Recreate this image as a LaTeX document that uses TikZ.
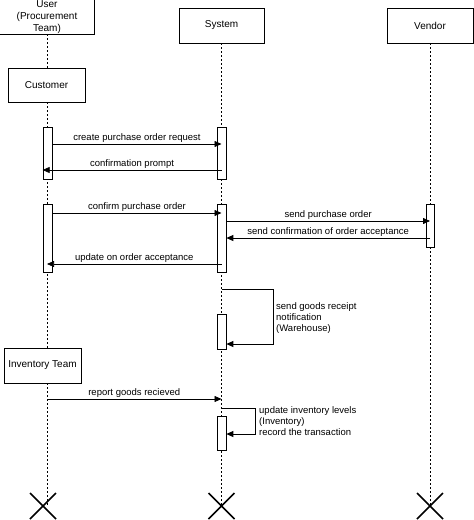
\documentclass[tikz,border=0pt]{standalone}
\usepackage{fontspec}
\setmainfont{Liberation Sans}
\usetikzlibrary{arrows.meta}
\begin{document}
\begin{tikzpicture}[x=1pt,y=-1pt,
  box/.style={draw, line width=0.8pt, fill=white, inner sep=0pt, font=\fontsize{10}{12}\selectfont, align=center},
  hdr/.style={inner sep=0pt, font=\fontsize{10}{12}\selectfont, align=center},
  act/.style={draw, line width=0.7pt, fill=white, minimum width=9pt, inner sep=0pt},
  life/.style={line width=0.7pt, dash pattern=on 2pt off 2pt},
  msg/.style={line width=0.75pt, -{Triangle[length=7pt,width=6pt]}},
  lbl/.style={font=\fontsize{9.5}{11.4}\selectfont, inner sep=0pt},
  endx/.style={line width=1.6pt}]
\useasboundingbox (0,0) rectangle (474,520);
% lifeline x positions
\coordinate (Lu) at (47,0);
\coordinate (Ls) at (221.5,0);
\coordinate (Lv) at (430,0);
% end markers
\coordinate (xu) at (43,506);
\coordinate (xs) at (221.5,506);
\coordinate (xv) at (430,506);
% headers
\node[box, minimum width=95pt, minimum height=40pt] (user) at (46.5,14) {};
\node[hdr] (usertxt) at (47,17.5) {User\\(Procurement\\Team)};
\node[box, minimum width=85pt, minimum height=35pt] (sys) at (221.5,25.5) {System};
\node[box, minimum width=86pt, minimum height=35pt] (ven) at (430,25.5) {Vendor};
\node[box, minimum width=77pt, minimum height=34pt] (cust) at (46.5,85) {Customer};
\node[box, minimum width=77pt, minimum height=35pt] (inv) at (42.5,365.5) {Inventory Team};
% lifelines
\draw[life] (user.south -| Lu) -- (cust.north -| Lu);
\draw[life] (cust.south -| Lu) -- (inv.north -| Lu);
\draw[life] (inv.south -| Lu) -- (xu -| Lu);
\draw[life] (sys.south) -- (xs);
\draw[life] (ven.south) -- (xv);
% activations
\node[act, minimum height=52pt] (ua1) at (47.5,153) {};
\node[act, minimum height=52pt] (sa1) at (221.5,153) {};
\node[act, minimum height=68pt] (ua2) at (47.5,238) {};
\node[act, minimum height=68pt] (sa2) at (221.5,238) {};
\node[act, minimum width=8pt, minimum height=43pt] (va1) at (430,225.5) {};
\node[act, minimum height=35pt] (sa3) at (221.5,331.5) {};
\node[act, minimum height=34pt] (sa4) at (221.5,433) {};
% messages
\draw[msg] (ua1.east |- 0,144) -- node[lbl, midway, anchor=base, yshift=3.5pt] {create purchase order request} (Ls |- 0,144);
\draw[msg] (Ls |- 0,170) -- node[lbl, midway, anchor=base, yshift=3.5pt] {confirmation prompt} (ua1.west |- 0,170);
\draw[msg] (ua2.east |- 0,213) -- node[lbl, midway, anchor=base, yshift=3.5pt] {confirm purchase order} (Ls |- 0,213);
\draw[msg] (sa2.east |- 0,221) -- node[lbl, midway, anchor=base, yshift=3.5pt] {send purchase order} (Lv |- 0,221);
\draw[msg] (Lv |- 0,238) -- node[lbl, midway, anchor=base, yshift=3.5pt] {send confirmation of order acceptance} (sa2.east |- 0,238);
\draw[msg] (Ls |- 0,264) -- node[lbl, midway, anchor=base, yshift=3.5pt] {update on order acceptance} (Lu |- 0,264);
\draw[msg] (Ls |- 0,289) -- (273,289) -- (273,344) -- (sa3.east |- 0,344);
\node[lbl, anchor=north west, align=left] (t1) at (276,302) {send goods receipt\\notification\\(Warehouse)};
\draw[msg] (Lu |- 0,399) -- node[lbl, midway, anchor=base, yshift=3.5pt] {report goods recieved} (Ls |- 0,399);
\draw[msg] (Ls |- 0,408) -- (255,408) -- (255,434) -- (sa4.east |- 0,434);
\node[lbl, anchor=north west, align=left] (t2) at (259,406) {update inventory levels\\(Inventory)\\record the transaction};
% destroy markers
\draw[endx] (xu) ++(-13,-13) -- ++(26,26) (xu) ++(-13,13) -- ++(26,-26);
\draw[endx] (xs) ++(-13,-13) -- ++(26,26) (xs) ++(-13,13) -- ++(26,-26);
\draw[endx] (xv) ++(-13,-13) -- ++(26,26) (xv) ++(-13,13) -- ++(26,-26);
\end{tikzpicture}
\end{document}
